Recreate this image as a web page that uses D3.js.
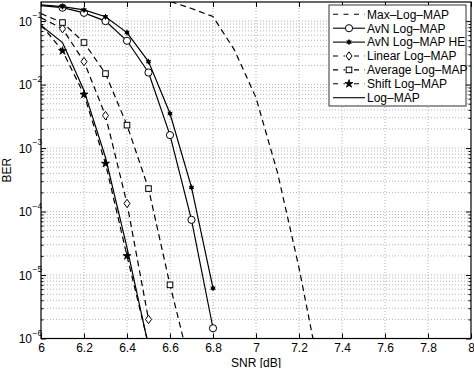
<!DOCTYPE html>
<html><head><meta charset="utf-8">
<script src="https://cdn.jsdelivr.net/npm/d3@7"></script>
<style>
html,body{margin:0;padding:0;background:#fff;}
svg{display:block;font-family:"Liberation Sans",Arial,Helvetica,sans-serif;}
</style></head>
<body>
<svg id="c" width="474" height="368"></svg>
<script>
// ---- data ----
const snrAll   = [6.0,6.1,6.2,6.3,6.4,6.5,6.6,6.7,6.8,6.9,7.0,7.1,7.2,7.3];
const maxLogMap = [0.26,0.255,0.25,0.245,0.235,0.225,0.205,0.158,0.118,0.035,6.2e-3,4.1e-4,1.3e-5,2.5e-7];
const snrAvn   = [6.0,6.1,6.2,6.3,6.4,6.5,6.6,6.7,6.8];
const avnLogMap   = [0.175,0.163,0.135,0.1,0.049,0.0155,1.6e-3,7.4e-5,1.45e-6];
const avnLogMapHE = [0.18,0.169,0.15,0.117,0.066,0.023,3.5e-3,2.4e-4,6.2e-6];
const snrLin   = [6.0,6.1,6.2,6.3,6.4,6.5];
const linearLogMap = [0.113,0.076,0.023,3.25e-3,1.34e-4,2.0e-6];
const snrAvg   = [6.0,6.1,6.2,6.3,6.4,6.5,6.6,6.7];
const averageLogMap = [0.131,0.095,0.046,0.0149,2.3e-3,2.3e-4,7e-6,3e-7];
const snrShift = [6.0,6.1,6.2,6.3,6.4,6.5];
const shiftLogMap = [0.088,0.034,7e-3,5.7e-4,2e-5,8e-7];
const snrLog   = [6.0,6.1,6.2,6.3,6.4,6.5];
const logMap   = [0.085,0.046,8.1e-3,7.1e-4,2.7e-5,7.6e-7];

const xTicks = [6,6.2,6.4,6.6,6.8,7,7.2,7.4,7.6,7.8,8];
const yExps  = [-6,-5,-4,-3,-2,-1];
const legendLabels = ["Max\u2013Log\u2013MAP","AvN Log\u2013MAP","AvN Log\u2013MAP HE","Linear Log\u2013MAP","Average Log\u2013MAP","Shift Log\u2013MAP","Log\u2013MAP"];

// ---- layout ----
const L=41, R=471, T=2, B=338.5;
const svg=d3.select("#c");
const x=d3.scaleLinear().domain([6,8]).range([L,R]);
const y=d3.scaleLog().domain([1e-6,0.2]).range([B,T]);

svg.append("defs").append("clipPath").attr("id","clip")
  .append("rect").attr("x",L).attr("y",T).attr("width",R-L).attr("height",B-T);

// grid
const g=svg.append("g");
const gridCol="#b3b3b3";
xTicks.slice(1,-1).forEach(v=>{
  g.append("line").attr("x1",x(v)).attr("x2",x(v)).attr("y1",T).attr("y2",B)
   .attr("stroke",gridCol).attr("stroke-width",1).attr("stroke-dasharray","1,2");
});
const yMinor=[];
for(let e=-6;e<=-1;e++){for(let m=1;m<=9;m++){const v=m*Math.pow(10,e); if(v>1e-6*1.0001 && v<0.2*0.999) yMinor.push({v,major:m===1});}}
yMinor.forEach(d=>{
  g.append("line").attr("x1",L).attr("x2",R).attr("y1",y(d.v)).attr("y2",y(d.v))
   .attr("stroke",gridCol).attr("stroke-width",1).attr("stroke-dasharray","1,2");
});

// axes with d3 axis (ticks inward)
const xAxB=d3.axisBottom(x).tickValues(xTicks).tickSize(-5).tickFormat(d3.format("~g"));
const gx=svg.append("g").attr("transform",`translate(0,${B})`).call(xAxB);
gx.select(".domain").remove();
gx.selectAll("text").attr("dy",null).attr("y",13.5).attr("font-size",12).attr("fill","#000");
const xAxT=d3.axisTop(x).tickValues(xTicks).tickSize(-5).tickFormat("");
svg.append("g").attr("transform",`translate(0,${T})`).call(xAxT).select(".domain").remove();

const yMajorVals=yExps.map(e=>Math.pow(10,e));
const yAxL=d3.axisLeft(y).tickValues(yMajorVals).tickSize(-5).tickFormat("");
svg.append("g").attr("transform",`translate(${L},0)`).call(yAxL).select(".domain").remove();
const yAxR=d3.axisRight(y).tickValues(yMajorVals).tickSize(-5).tickFormat("");
svg.append("g").attr("transform",`translate(${R},0)`).call(yAxR).select(".domain").remove();
const minorVals=yMinor.filter(d=>!d.major).map(d=>d.v);
const yAxLm=d3.axisLeft(y).tickValues(minorVals).tickSize(-2.5).tickFormat("");
svg.append("g").attr("transform",`translate(${L},0)`).call(yAxLm).select(".domain").remove();
const yAxRm=d3.axisRight(y).tickValues(minorVals).tickSize(-2.5).tickFormat("");
svg.append("g").attr("transform",`translate(${R},0)`).call(yAxRm).select(".domain").remove();
svg.selectAll(".tick line").attr("stroke","#000");

// y labels 10^e
yExps.forEach(e=>{
  svg.append("text").attr("x",32).attr("y",y(Math.pow(10,e))+4.5)
    .attr("text-anchor","end").attr("font-size",12).attr("fill","#000").text("10");
  svg.append("text").attr("x",32.5).attr("y",y(Math.pow(10,e))-3)
    .attr("font-size",8.5).attr("fill","#000").text("\u2212"+(-e));
});

// frame
svg.append("rect").attr("x",L).attr("y",T).attr("width",R-L).attr("height",B-T)
  .attr("fill","none").attr("stroke","#000").attr("stroke-width",1.2);

// axis titles
svg.append("text").attr("x",(L+R)/2).attr("y",366.5).attr("text-anchor","middle")
  .attr("font-size",12).text("SNR [dB]");
svg.append("text").attr("transform",`translate(10.5,${(T+B)/2}) rotate(-90)`)
  .attr("text-anchor","middle").attr("font-size",12).text("BER");

// series
const plot=svg.append("g").attr("clip-path","url(#clip)");
const line=d3.line().x(d=>x(d[0])).y(d=>y(d[1]));
const series=[
  {xs:snrAll,ys:maxLogMap,dash:"6,4",marker:null},
  {xs:snrAvn,ys:avnLogMap,dash:null,marker:"circle"},
  {xs:snrAvn,ys:avnLogMapHE,dash:null,marker:"dot"},
  {xs:snrLin,ys:linearLogMap,dash:"6,4",marker:"diamond"},
  {xs:snrAvg,ys:averageLogMap,dash:"6,4",marker:"square"},
  {xs:snrShift,ys:shiftLogMap,dash:"6,4",marker:"star"},
  {xs:snrLog,ys:logMap,dash:null,marker:null}
];
function drawMarker(sel,type,cx,cy){
  if(type==="circle"){
    sel.append("circle").attr("cx",cx).attr("cy",cy).attr("r",3.6)
      .attr("fill","#fff").attr("stroke","#000").attr("stroke-width",1);
  } else if(type==="dot"){
    sel.append("path").attr("d",d3.symbol(d3.symbolAsterisk,22)()).attr("transform",`translate(${cx},${cy})`)
      .attr("fill","none").attr("stroke","#000").attr("stroke-width",1);
    sel.append("circle").attr("cx",cx).attr("cy",cy).attr("r",2).attr("fill","#000");
  } else if(type==="diamond"){
    sel.append("path").attr("d",`M0,-4.2L3,0L0,4.2L-3,0Z`).attr("transform",`translate(${cx},${cy})`)
      .attr("fill","#fff").attr("stroke","#000").attr("stroke-width",1);
  } else if(type==="square"){
    sel.append("rect").attr("x",cx-2.8).attr("y",cy-2.8).attr("width",5.6).attr("height",5.6)
      .attr("fill","#fff").attr("stroke","#000").attr("stroke-width",1);
  } else if(type==="star"){
    sel.append("path").attr("d",d3.symbol(d3.symbolStar,20)()).attr("transform",`translate(${cx},${cy})`)
      .attr("fill","#000").attr("stroke","#000").attr("stroke-width",0.8);
  }
}
series.forEach(s=>{
  const pts=s.xs.map((v,i)=>[v,s.ys[i]]);
  const p=plot.append("path").datum(pts).attr("d",line).attr("fill","none")
    .attr("stroke","#000").attr("stroke-width",1.2);
  if(s.dash) p.attr("stroke-dasharray",s.dash);
  if(s.marker){
    pts.slice(1).forEach(d=>drawMarker(plot,s.marker,x(d[0]),y(d[1])));
  }
});

// legend
const lg=svg.append("g");
const lx0=329, ly0=5, lw=137, lh=101;
lg.append("rect").attr("x",lx0).attr("y",ly0).attr("width",lw).attr("height",lh)
  .attr("fill","#fff").attr("stroke","#333").attr("stroke-width",1);
legendLabels.forEach((lab,i)=>{
  const s=series[i];
  const yy=14.3+i*13.9;
  const ln=lg.append("line").attr("x1",333).attr("x2",365).attr("y1",yy).attr("y2",yy)
    .attr("stroke","#000").attr("stroke-width",1.1);
  if(s.dash) ln.attr("stroke-dasharray","5,5.5");
  if(s.marker){
    if(s.dash) lg.append("rect").attr("x",345).attr("y",yy-4.5).attr("width",8).attr("height",9).attr("fill","#fff");
    drawMarker(lg,s.marker,349,yy);
  }
  lg.append("text").attr("x",367).attr("y",yy+4.3).attr("font-size",12).text(lab);
});
</script>
</body></html>
